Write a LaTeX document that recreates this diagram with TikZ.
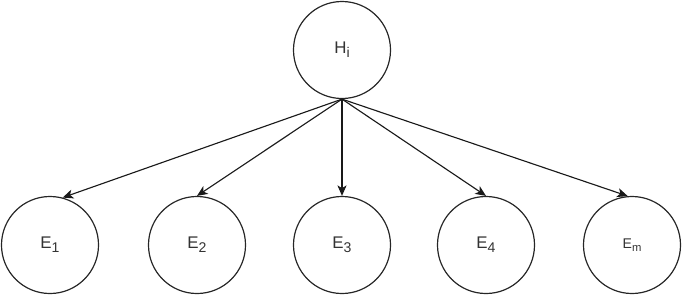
\documentclass[tikz,border=0pt]{standalone}
\usepackage{fontspec}
\setmainfont{Liberation Sans}
\usetikzlibrary{arrows.meta}
\newcommand{\lowsub}[1]{\raisebox{-0.45ex}{\fontsize{10}{10}\selectfont #1}}
\begin{document}
\begin{tikzpicture}[x=0.025cm,y=-0.025cm]
  \tikzset{state/.style={circle,draw=black!85,minimum size=2.425cm,inner sep=0,line width=0.85pt,font=\fontsize{12}{14}\selectfont,text=black!80}}
  \tikzset{link/.style={draw=black!90,line width=0.8pt,-{Stealth[length=7.5pt,width=6.5pt,inset=2pt]}}}
  \useasboundingbox (0,0) rectangle (685,297);
  \node[state](h) at (342,50) {H\lowsub{i}};
  \node[state](e1) at (50,245) {E\lowsub{1}};
  \node[state](e2) at (197,245) {E\lowsub{2}};
  \node[state](e3) at (342,245) {E\lowsub{3}};
  \node[state](e4) at (486,245) {E\lowsub{4}};
  \node[state,font=\fontsize{10}{12}\selectfont](em) at (632,245) {E\raisebox{-0.45ex}{\fontsize{8}{8}\selectfont m}};
  \draw[link] (h.south) -- (e1.75);
  \draw[link] (h.south) -- (e2.north);
  \draw[link] (h.south) -- (e3.north);
  \draw[link] (h.south) -- (e4.north);
  \draw[link] (h.south) -- (em.95);
\end{tikzpicture}
\end{document}
